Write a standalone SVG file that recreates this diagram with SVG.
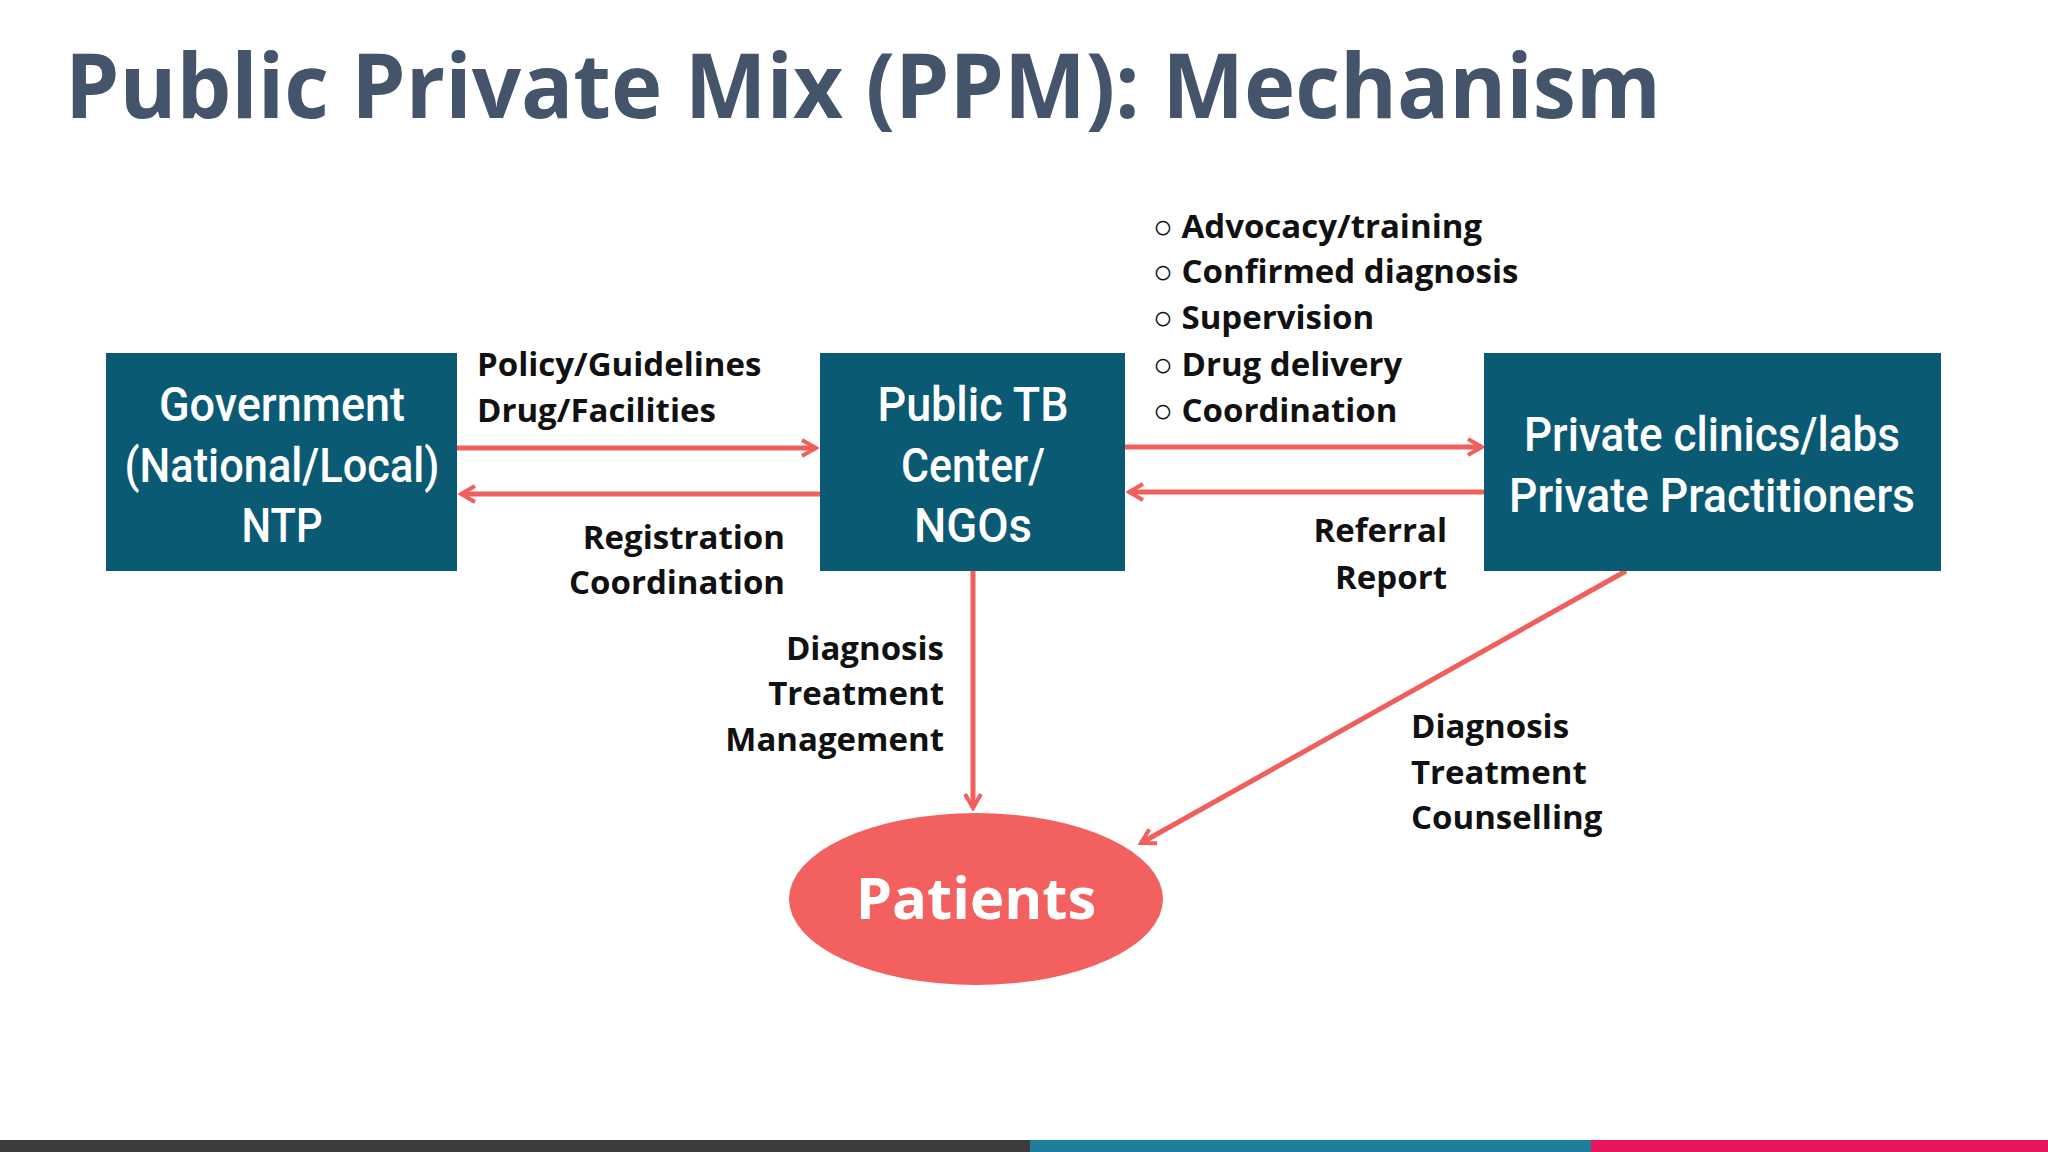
<svg xmlns="http://www.w3.org/2000/svg" width="2048" height="1152" viewBox="0 0 2048 1152">
<style>
.box{fill:#0B5A74}
.bt{font-family:Roboto,"Liberation Sans",sans-serif;font-weight:500;font-size:48px;fill:#fff;text-anchor:middle}
.lb{font-family:"Open Sans","Liberation Sans",sans-serif;font-weight:700;font-size:33px;fill:#111}
.r{text-anchor:end}
.ln{stroke:#F05F5C;stroke-width:5;fill:none}
</style>
<defs>
<marker id="ah" viewBox="0 0 20 20" refX="17" refY="10" markerWidth="20" markerHeight="20" markerUnits="userSpaceOnUse" orient="auto">
<path d="M3,2 L17,10 L3,18" fill="none" stroke="#F05F5C" stroke-width="4"/>
</marker>
</defs>
<rect width="2048" height="1152" fill="#fff"/>
<text x="65" y="118" font-family="'Open Sans','Liberation Sans',sans-serif" font-weight="700" font-size="90" fill="#44546A" textLength="1596" lengthAdjust="spacingAndGlyphs">Public Private Mix (PPM): Mechanism</text>
<g id="connectors">
<line class="ln" x1="457" y1="448" x2="816" y2="448" marker-end="url(#ah)"/>
<line class="ln" x1="820" y1="494" x2="461" y2="494" marker-end="url(#ah)"/>
<line class="ln" x1="1125" y1="447" x2="1482" y2="447" marker-end="url(#ah)"/>
<line class="ln" x1="1484" y1="492" x2="1129" y2="492" marker-end="url(#ah)"/>
<line class="ln" x1="973" y1="571" x2="973" y2="808" marker-end="url(#ah)"/>
<line class="ln" x1="1626" y1="571" x2="1141" y2="843" marker-end="url(#ah)"/>
</g>
<g id="gov">
<rect class="box" x="106" y="353" width="351" height="218"/>
<text class="bt" x="282" y="421" textLength="246" lengthAdjust="spacingAndGlyphs">Government</text>
<text class="bt" x="282" y="482" textLength="315" lengthAdjust="spacingAndGlyphs">(National/Local)</text>
<text class="bt" x="282" y="542" textLength="81" lengthAdjust="spacingAndGlyphs">NTP</text>
</g>
<g id="public">
<rect class="box" x="820" y="353" width="305" height="218"/>
<text class="bt" x="973" y="421" textLength="191" lengthAdjust="spacingAndGlyphs">Public TB</text>
<text class="bt" x="973" y="482" textLength="144" lengthAdjust="spacingAndGlyphs">Center/</text>
<text class="bt" x="973" y="542" textLength="118" lengthAdjust="spacingAndGlyphs">NGOs</text>
</g>
<g id="private">
<rect class="box" x="1484" y="353" width="457" height="218"/>
<text class="bt" x="1712" y="451" textLength="376" lengthAdjust="spacingAndGlyphs">Private clinics/labs</text>
<text class="bt" x="1712" y="512" textLength="406" lengthAdjust="spacingAndGlyphs">Private Practitioners</text>
</g>
<g id="patients">
<ellipse cx="976" cy="899" rx="187" ry="86" fill="#F26060"/>
<text x="976" y="919" text-anchor="middle" font-family="'Open Sans','Liberation Sans',sans-serif" font-weight="700" font-size="58" fill="#fff">Patients</text>
</g>
<g id="labels">
<text class="lb" x="477" y="376">Policy/Guidelines</text>
<text class="lb" x="477" y="422">Drug/Facilities</text>
<text class="lb r" x="785" y="549">Registration</text>
<text class="lb r" x="785" y="594">Coordination</text>
<text class="lb" x="1153" y="238">○ Advocacy/training</text>
<text class="lb" x="1153" y="283">○ Confirmed diagnosis</text>
<text class="lb" x="1153" y="329">○ Supervision</text>
<text class="lb" x="1153" y="376">○ Drug delivery</text>
<text class="lb" x="1153" y="422">○ Coordination</text>
<text class="lb r" x="1447" y="542">Referral</text>
<text class="lb r" x="1447" y="589">Report</text>
<text class="lb r" x="944" y="660">Diagnosis</text>
<text class="lb r" x="944" y="705">Treatment</text>
<text class="lb r" x="944" y="751">Management</text>
<text class="lb" x="1411" y="738">Diagnosis</text>
<text class="lb" x="1411" y="784">Treatment</text>
<text class="lb" x="1411" y="829">Counselling</text>
</g>
<rect x="0" y="1140" width="1030" height="12" fill="#3C3C3C"/>
<rect x="1030" y="1140" width="561" height="12" fill="#1F7F9A"/>
<rect x="1591" y="1140" width="457" height="12" fill="#E8155E"/>
</svg>
